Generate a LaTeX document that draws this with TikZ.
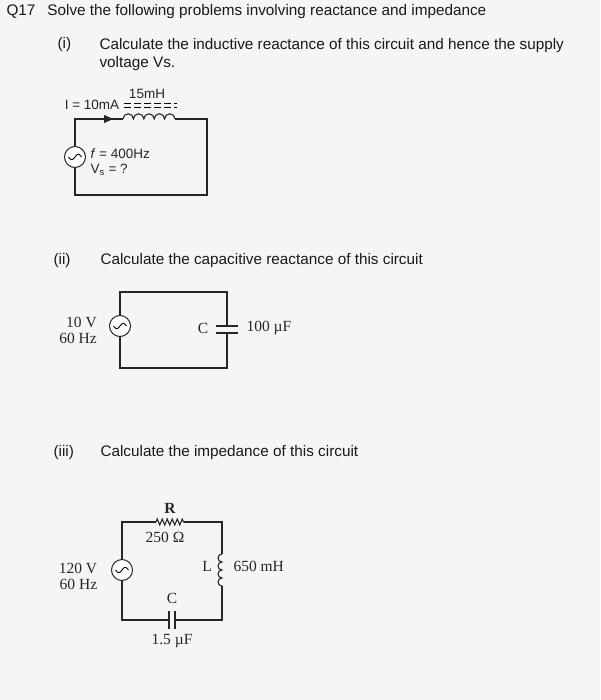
\documentclass[tikz,border=0pt]{standalone}
\usepackage{fontspec}
\setmainfont{Liberation Sans}
\newfontfamily\serifx{Liberation Serif}
\usetikzlibrary{arrows.meta,decorations.pathmorphing}
\tikzset{
  wire/.style={line width=1.1pt,draw=black!85},
  src/.style={circle,draw=black!85,line width=1pt,minimum size=21pt,inner sep=0pt,fill=white},
  hd/.style={anchor=west,font=\fontsize{15.3}{18}\selectfont,text=black!90},
  lbl/.style={font=\fontsize{13.5}{15}\selectfont,text=black!85},
  slbl/.style={font=\serifx\fontsize{15.5}{16}\selectfont,text=black!85,align=right},
}
\newcommand{\sinewave}[1]{\draw[line width=0.9pt,shift={(#1)}] plot[domain=-6.5:6.5,samples=40,smooth] (\x,{-2.6*sin(27.7*\x)});}
\begin{document}
\begin{tikzpicture}[x=1pt,y=-1pt]
\useasboundingbox (0,0) rectangle (600,700);
\fill[black!4] (0,0) rectangle (600,700);
% headers
\node[hd] (q) at (3,12) {Q17\hspace{12pt}Solve the following problems involving reactance and impedance};
\node[hd] (h1) at (54,45) {(i)};
\node[hd,align=left] (h1t) at (96,55) {Calculate the inductive reactance of this circuit and hence the supply\\voltage Vs.};
\node[hd] (h2) at (50,261) {(ii)};
\node[hd] (h2t) at (97,261) {Calculate the capacitive reactance of this circuit};
\node[hd] (h3) at (50,453) {(iii)};
\node[hd] (h3t) at (97,453) {Calculate the impedance of this circuit};

% circuit (i)
\node[src] (s1) at (75,157) {};
\sinewave{s1}
\coordinate (a1) at (75,119); \coordinate (b1) at (207,119);
\coordinate (c1) at (207,195); \coordinate (d1) at (75,195);
\coordinate (l1a) at (123,119); \coordinate (l1b) at (175,119);
\draw[wire] (s1.north) -- (a1) -- (l1a);
\draw[wire] (l1b) -- (b1) -- (c1) -- (d1) -- (s1.south);
\draw[wire] (l1a) arc(180:360:5.2) arc(180:360:5.2) arc(180:360:5.2) arc(180:360:5.2) arc(180:360:5.2);
\draw[-{Triangle[length=9pt,width=8pt]},black!85] (95,119) -- (113,119);
\draw[line width=1pt,dash pattern=on 7pt off 3pt] (124,104) -- (177,104);
\draw[line width=1pt,dash pattern=on 7pt off 3pt] (124,108) -- (177,108);
\node[lbl] (i1) at (92,105) {I = 10mA};
\node[lbl] (i2) at (147,94) {15mH};
\node[lbl,anchor=west] (i3) at (87,154) {\textit{f} = 400Hz};
\node[lbl,anchor=west] (i4) at (87,170) {V$_\mathrm{s}$ = ?};

% circuit (ii)
\node[src] (s2) at (120,326) {};
\sinewave{s2}
\coordinate (c2t) at (227,292); \coordinate (c2b) at (227,368);
\coordinate (p2a) at (227,326); \coordinate (p2b) at (227,333);
\draw[wire] (s2.north) |- (c2t) -- (p2a);
\draw[wire] (p2b) -- (c2b) -| (s2.south);
\draw[wire] (216,326) -- (238,326);
\draw[wire] (216,333) -- (238,333);
\node[slbl] (v2) at (78,330) {10 V\\60 Hz};
\node[slbl] (cl2) at (203,328) {C};
\node[slbl,anchor=west] (cv2) at (243,328) {100 µF};

% circuit (iii)
\node[src] (s3) at (122,570) {};
\sinewave{s3}
\coordinate (tl3) at (122,522); \coordinate (tr3) at (222,522);
\coordinate (bl3) at (122,620); \coordinate (br3) at (222,620);
\coordinate (r3a) at (156,522); \coordinate (r3b) at (184,522);
\coordinate (l3a) at (222,554); \coordinate (l3b) at (222,586);
\coordinate (c3a) at (169,620); \coordinate (c3b) at (175,620);
\draw[wire] (s3.north) -- (tl3) -- (r3a);
\draw[wire,decorate,decoration={zigzag,segment length=5pt,amplitude=3pt}] (r3a) -- (r3b);
\draw[wire] (r3b) -- (tr3) -- (l3a);
\draw[wire] (l3a) arc(270:90:4) arc(270:90:4) arc(270:90:4) arc(270:90:4);
\draw[wire] (l3b) -- (br3) -- (c3b);
\draw[wire] (c3a) -- (bl3) -- (s3.south);
\draw[wire] (169,611) -- (169,629);
\draw[wire] (175,611) -- (175,629);
\node[slbl] (r3) at (170,508) {\bfseries R};
\node[slbl] (rv3) at (165,537) {250 Ω};
\node[slbl] (l3) at (207,566) {L};
\node[slbl,anchor=west] (lv3) at (230,566) {650 mH};
\node[slbl] (cl3) at (172,598) {C};
\node[slbl] (cv3) at (172,641) {1.5 µF};
\node[slbl] (v3) at (78,576) {120 V\\60 Hz};
\end{tikzpicture}
\end{document}
